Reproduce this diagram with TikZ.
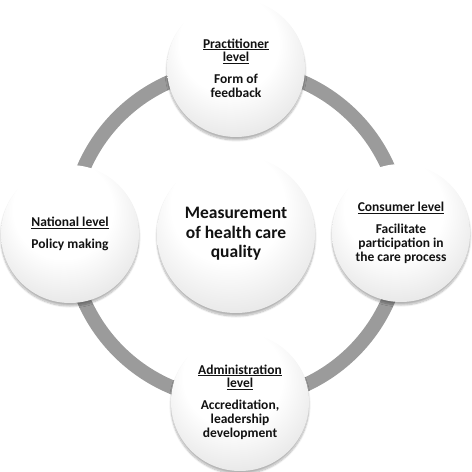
\documentclass[tikz,border=0pt]{standalone}
\usepackage{fontspec}
\setmainfont{Carlito}
\usetikzlibrary{shadows.blur}
\definecolor{ringgray}{HTML}{9B9B9B}
\definecolor{inktext}{HTML}{121212}
\pgfdeclareradialshading{orb}{\pgfpoint{-4bp}{14bp}}{color(0bp)=(white); color(18bp)=(white); color(50bp)=(black!22)}
\begin{document}
\begin{tikzpicture}[x=1pt,y=-1pt,
  ball/.style={circle, shading=orb, inner sep=0pt, align=center, text=inktext,
    blur shadow={shadow xshift=0pt, shadow yshift=-3pt, shadow blur steps=8, shadow opacity=30}},
  levelball/.style={ball, minimum size=138pt, font=\bfseries\fontsize{13.5}{13.8}\selectfont},
  coreball/.style={ball, minimum size=158pt, font=\bfseries\fontsize{17.5}{19.5}\selectfont},
  ring/.style={draw=ringgray, line width=14pt}]
  \useasboundingbox (0,0) rectangle (472,472);
  % ring behind the circles
  \coordinate (hub) at (236,234);
  \draw[ring] (hub) circle (166pt);
  % centre and the four levels
  \node[coreball] (quality) at (hub) {Measurement\\of health care\\quality};
  \node[levelball] (practitioner) at (236,68)
    {\underline{Practitioner}\\\underline{level}\\[8pt]Form of\\feedback};
  \node[levelball] (consumer) at (401,233)
    {\underline{Consumer level}\\[8pt]Facilitate\\participation in\\the care process};
  \node[levelball] (administration) at (240,402)
    {\underline{Administration}\\\underline{level}\\[8pt]Accreditation,\\leadership\\development};
  \node[levelball] (national) at (70,234)
    {\underline{National level}\\[8pt]Policy making};
\end{tikzpicture}
\end{document}
